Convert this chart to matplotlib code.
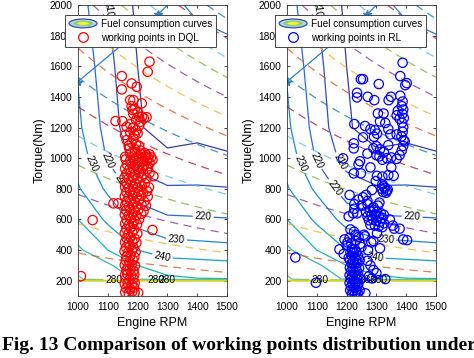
import numpy as np
import matplotlib.pyplot as plt
from matplotlib.legend_handler import HandlerBase
from matplotlib.patches import Ellipse, Patch
from matplotlib.lines import Line2D

plt.rcParams['font.family'] = ['Liberation Sans', 'DejaVu Sans']
plt.rcParams['lines.dashed_pattern'] = [6.5, 4.5]

# engine fuel map (g/kWh) on a coarse grid
map_rpm = [1000, 1100, 1200, 1300, 1400, 1500]
map_torque = [100, 200, 210, 300, 400, 600, 800, 1000, 1200, 1600, 2000]
map_bsfc = [
    [340, 340, 340, 340, 340, 340],
    [301, 301, 301, 301, 301, 301],
    [282, 270, 258, 252, 250.5, 250.3],
    [275, 262, 250, 245, 244, 243],
    [262, 250, 240, 235, 234, 233],
    [250, 238, 226, 221.5, 221, 220.5],
    [241, 228, 215, 211, 211, 210.5],
    [236, 219, 206, 202, 203, 201.5],
    [232, 216, 201, 196, 197, 195],
    [229, 213, 200, 194, 192, 193],
    [225, 210, 198, 192, 190, 191],
]
bsfc_levels = [200, 210, 220, 230, 240, 250, 260, 280, 300]
bsfc_colors = ['#3e3a9a', '#2f4fc4', '#2a6ad6', '#1f88d2', '#15a0c8',
               '#1fb1bd', '#37b9ab', '#6cc08a', '#cdd51f']
bsfc_widths = [0.9, 0.9, 0.9, 0.9, 0.9, 0.9, 0.9, 0.9, 1.4]

# iso-power lines (kW)
power_levels = [40, 60, 80, 100, 120, 140, 160, 180, 200, 220, 240, 260, 280, 300]
power_colors = ['#d95319', '#edb120', '#7e2f8e', '#77ac30', '#4dbeee', '#a2142f',
                '#0072bd', '#d95319', '#edb120', '#7e2f8e', '#77ac30', '#4dbeee',
                '#a2142f', '#0072bd']

# max torque curve
mt_rpm = [1000, 1270, 1330, 1400, 1500]
mt_torque = [1500, 1940, 2060, 1900, 1810]

dql_points = [
    (1240, 1630), (1234, 1564), (1147, 1536), (1147, 1449), (1180, 1488),
    (1197, 1466), (1186, 1379), (1214, 1358), (1183, 1314), (1221, 1260),
    (1126, 1242), (1149, 1242), (1163, 1205), (1158, 1151), (1163, 1118),
    (1186, 1129), (1172, 1064), (1158, 1009), (1230, 1020),
    (1175, 1380), (1180, 1340), (1190, 1320), (1185, 1290), (1200, 1300),
    (1205, 1270), (1215, 1272), (1195, 1250), (1210, 1238), (1230, 1268),
    (1175, 1222), (1185, 1200), (1195, 1180), (1205, 1212), (1175, 1170),
    (1190, 1150), (1200, 1162), (1180, 1100), (1195, 1090), (1170, 1082),
    (1190, 1060), (1205, 1080), (1175, 1030), (1190, 1042), (1210, 1050),
    (1195, 1000), (1205, 1012), (1215, 998), (1225, 1010), (1235, 1000), (1245, 1006),
    (1200, 970), (1215, 975), (1230, 982), (1240, 968), (1210, 1030), (1225, 1032),
    (1240, 1025), (1200, 945), (1220, 950), (1235, 948), (1250, 990),
    (1253, 883), (1119, 705), (1134, 705), (1049, 596), (1250, 531), (1010, 230),
    (1202, 121),
    (1158, 125), (1170, 118), (1182, 128), (1190, 122),
    (1162, 152), (1175, 147), (1188, 155),
    (1157, 178), (1168, 183), (1180, 176), (1190, 185),
    (1160, 212), (1172, 206), (1185, 214),
    (1158, 238), (1166, 244), (1178, 236), (1189, 242),
    (1162, 268), (1174, 274), (1186, 266),
    (1157, 302), (1168, 296), (1180, 304), (1191, 298),
    (1160, 332), (1172, 326), (1184, 335),
    (1163, 358), (1176, 364), (1189, 356),
    (1156, 392), (1168, 386), (1181, 394), (1193, 388),
    (1161, 418), (1174, 424), (1186, 416),
    (1158, 452), (1170, 446), (1183, 454), (1196, 448),
    (1163, 478), (1176, 484), (1190, 476),
    (1157, 512), (1169, 506), (1182, 514), (1199, 508),
    (1162, 538), (1175, 544), (1188, 536),
    (1158, 572), (1171, 566), (1184, 574), (1198, 568),
    (1163, 598), (1176, 604), (1190, 596), (1205, 602),
    (1157, 632), (1170, 626), (1183, 634), (1196, 628), (1212, 636),
    (1162, 658), (1175, 664), (1188, 656), (1202, 662), (1220, 654),
    (1158, 692), (1171, 686), (1184, 694), (1197, 688), (1213, 696), (1228, 690),
    (1163, 718), (1176, 724), (1190, 716), (1205, 722), (1222, 716),
    (1157, 752), (1170, 746), (1183, 754), (1197, 748), (1212, 756), (1234, 750),
    (1162, 778), (1175, 784), (1188, 776), (1203, 782), (1218, 776), (1232, 784),
    (1158, 812), (1171, 806), (1185, 814), (1199, 808), (1214, 816), (1238, 810),
    (1163, 838), (1177, 844), (1192, 836), (1206, 842), (1224, 836),
    (1156, 872), (1170, 866), (1184, 874), (1198, 868), (1213, 876), (1230, 870),
    (1162, 898), (1176, 904), (1190, 896), (1205, 902), (1220, 896), (1240, 904),
    (1158, 932), (1172, 926), (1186, 934), (1200, 928), (1216, 936), (1233, 930),
    (1164, 958), (1178, 964), (1192, 956),
    (1160, 992), (1175, 986), (1189, 994),
]

rl_points = [
    (1388, 1623), (1380, 1536), (1397, 1477), (1402, 1490), (1248, 1516), (1255, 1516),
    (1308, 1484), (1235, 1427), (1235, 1397), (1271, 1401), (1293, 1379), (1341, 1379),
    (1349, 1401), (1380, 1408), (1388, 1370), (1385, 1340), (1390, 1318), (1387, 1290),
    (1392, 1262), (1386, 1232), (1390, 1202), (1388, 1172), (1384, 1142), (1391, 1118),
    (1372, 1310), (1368, 1280), (1378, 1258), (1305, 1292), (1324, 1292), (1312, 1240),
    (1330, 1230), (1340, 1190), (1295, 1183), (1226, 1223), (1280, 1190), (1224, 1097),
    (1224, 1064), (1255, 1136), (1292, 1140), (1302, 1160), (1347, 1155), (1368, 1155),
    (1395, 1110), (1390, 1080), (1385, 1050), (1378, 1020), (1188, 999), (1245, 980),
    (1240, 960), (1300, 1020), (1310, 1012), (1320, 990), (1335, 1000), (1350, 1005),
    (1368, 995), (1290, 1065), (1300, 1078), (1312, 1058), (1325, 1040), (1340, 1085),
    (1270, 1030), (1262, 1210),
    (1224, 901), (1248, 901), (1302, 885), (1320, 880), (1340, 890), (1358, 885),
    (1298, 850), (1320, 830), (1318, 800), (1328, 806), (1338, 795), (1322, 780),
    (1332, 774), (1325, 816), (1335, 786), (1285, 792), (1265, 760), (1270, 720),
    (1226, 700), (1226, 670), (1222, 640), (1207, 620), (1235, 640), (1250, 690),
    (1240, 730), (1255, 745), (1280, 940), (1350, 940), (1210, 760),
    (1265, 650), (1278, 655), (1290, 660), (1302, 650), (1315, 640), (1325, 630),
    (1270, 620), (1283, 625), (1295, 630), (1308, 620), (1320, 610), (1275, 595),
    (1288, 600), (1300, 590), (1312, 585), (1325, 575), (1280, 565), (1295, 560),
    (1308, 555), (1320, 550), (1290, 680), (1305, 690), (1270, 700), (1310, 710),
    (1345, 600), (1355, 560), (1360, 540), (1378, 540), (1403, 465), (1390, 470),
    (1302, 510), (1312, 412), (1283, 450), (1290, 460), (1272, 400), (1258, 500),
    (1262, 490), (1213, 535), (1225, 520), (1230, 500), (1193, 470), (1203, 450),
    (1176, 405), (1190, 375), (1207, 350),
    (1200, 430), (1215, 445), (1230, 460), (1245, 440), (1210, 480), (1240, 485),
    (1250, 420), (1270, 330), (1280, 300), (1290, 270), (1300, 250), (1275, 230),
    (1285, 215), (1028, 352), (1097, 187), (1330, 211), (1263, 118),
    (1218, 115), (1228, 112), (1238, 118),
    (1212, 138), (1222, 134), (1232, 140), (1244, 136),
    (1215, 162), (1225, 158), (1236, 164),
    (1210, 186), (1220, 182), (1230, 188), (1240, 184),
    (1214, 212), (1224, 208), (1234, 214), (1246, 210),
    (1210, 236), (1219, 232), (1229, 238), (1240, 234),
    (1215, 262), (1225, 258), (1235, 264),
    (1211, 286), (1221, 282), (1231, 288), (1242, 284),
    (1216, 312), (1226, 308), (1236, 314),
    (1212, 336), (1222, 332), (1232, 338), (1244, 334),
    (1217, 362), (1227, 358), (1238, 364),
    (1213, 386), (1223, 382), (1233, 388),
    (1218, 410), (1228, 406),
]

rpm_ticks = [1000, 1100, 1200, 1300, 1400, 1500]
torque_ticks = [200, 400, 600, 800, 1000, 1200, 1400, 1600, 1800, 2000]

labels_dql = [(1030, 950), (1092, 980), (1165, 870), (1100, 1975), (1420, 620),
              (1330, 450), (1280, 330), (1120, 205), (1260, 205), (1300, 205)]
labels_rl = [(1030, 950), (1092, 980), (1210, 1020), (1170, 820), (1100, 1975),
             (1420, 620), (1330, 440), (1290, 300), (1110, 205), (1270, 205), (1310, 205)]


class FuelHandler(HandlerBase):
    def create_artists(self, legend, orig_handle, xdescent, ydescent,
                       width, height, fontsize, trans):
        cx = width / 2 - xdescent
        cy = height / 2 - ydescent
        out = []
        for fw, fh, fc, ec in [(1.0, 1.25, '#a9dcee', '#3e4aa8'),
                               (0.7, 0.8, '#90cc6a', 'none'),
                               (0.42, 0.45, '#f3ef3a', 'none')]:
            out.append(Ellipse((cx, cy), width * fw, height * fh, facecolor=fc,
                               edgecolor=ec, lw=0.9, transform=trans))
        return out


R, T = np.meshgrid(np.linspace(1000, 1500, 80), np.linspace(100, 2000, 160))
P = T * R / 9549.0

fig = plt.figure(figsize=(4.74, 3.58), dpi=100)
ax1 = fig.add_axes([0.1646, 0.173, 0.3143, 0.813])
ax2 = fig.add_axes([0.6055, 0.173, 0.3143, 0.813])

panels = [(ax1, dql_points, '#ff0000', 'working points in DQL', labels_dql, -0.087),
          (ax2, rl_points, '#0000ff', 'working points in RL', labels_rl, -0.08)]

for ax, pts, col, name, lab_pos, lx in panels:
    cs = ax.contour(map_rpm, map_torque, map_bsfc, levels=bsfc_levels,
                    colors=bsfc_colors, linewidths=bsfc_widths)
    ax.clabel(cs, manual=lab_pos, fontsize=7.3, fmt='%d', inline=True,
              inline_spacing=2, colors='black')
    ax.contour(R, T, P, levels=power_levels, colors=power_colors,
               linewidths=0.9, linestyles='dashed', alpha=0.75)
    ax.plot(mt_rpm, mt_torque, color='#2f80c0', lw=0.9, marker='*', ms=6,
            markevery=[0, 1])

    rpm, trq = zip(*pts)
    ax.scatter(rpm, trq, s=45, facecolors='none', edgecolors=col,
               linewidths=0.9, zorder=4)

    ax.set_xlim(1000, 1500)
    ax.set_ylim(100, 2000)
    ax.set_xticks(rpm_ticks)
    ax.set_yticks(torque_ticks)
    ax.tick_params(direction='in', top=True, right=True, length=2.5, width=0.5,
                   labelsize=7.4, pad=4)
    for sp in ax.spines.values():
        sp.set_linewidth(0.6)
        sp.set_color('#333333')
    ax.set_xlabel('Engine RPM', fontsize=9, labelpad=4)
    ax.set_ylabel('Torque(Nm)', fontsize=9, labelpad=3)

    fuel = Patch()
    pt = Line2D([], [], ls='none', marker='o', ms=7, mfc='none', mec=col, mew=0.9)
    leg = ax.legend([fuel, pt], ['Fuel consumption curves', name],
                    handler_map={fuel: FuelHandler()}, loc='upper left',
                    bbox_to_anchor=(lx, 0.966), borderaxespad=0, fontsize=7.2,
                    handlelength=2.8, handletextpad=0.4, borderpad=0.4,
                    labelspacing=0.4, fancybox=False, framealpha=1,
                    edgecolor='#444444')
    leg.get_frame().set_linewidth(0.7)

fig.text(0.004, 0.036, 'Fig. 13 Comparison of working points distribution under',
         fontfamily='Liberation Serif', fontweight='bold', fontsize=14, va='center')

fig.savefig('out.png', dpi=100)
